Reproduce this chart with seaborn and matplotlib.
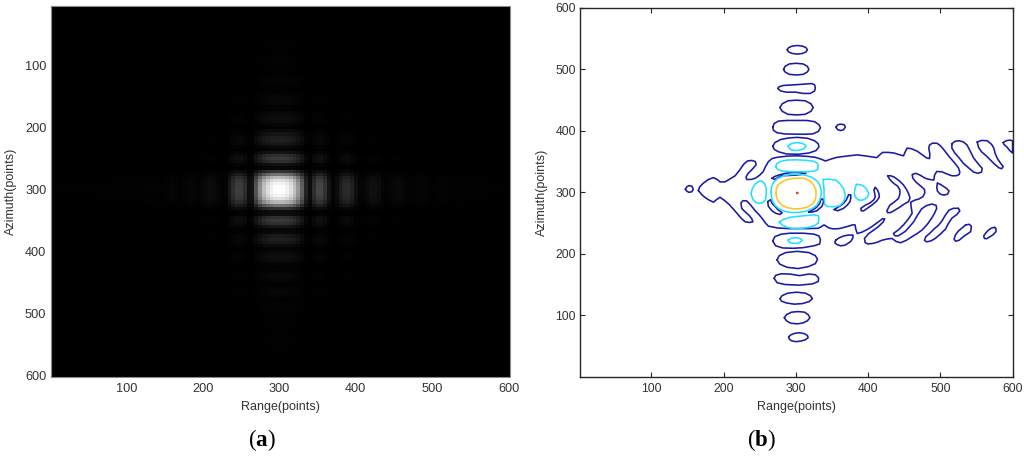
import numpy as np
import pandas as pd
import matplotlib
matplotlib.use("Agg")
import matplotlib.pyplot as plt
import seaborn as sns

sns.set_theme(style="ticks")
plt.rcParams["font.family"] = ["Liberation Sans", "DejaVu Sans"]
plt.rcParams["mathtext.fontset"] = "custom"
plt.rcParams["mathtext.bf"] = "Liberation Serif:bold"
plt.rcParams["xtick.direction"] = "in"
plt.rcParams["ytick.direction"] = "in"

# (a) brightness cuts through the peak, one value every 5 points from 0 to 600
range_cut = [
    .004, .004, .004, .004, .004, .004, .004, .004, .004, .004,
    .004, .004, .005, .005, .004, .005, .006, .006, .005, .005,
    .006, .008, .01, .008, .006, .008, .012, .012, .01, .008,
    .01, .014, .018, .014, .01, .014, .02, .025, .02, .012,
    .025, .04, .05, .04, .025, .012, .02, .09, .18, .24,
    .24, .18, .06, .08, .33, .56, .75, .87, .95, .99,
    1, .99, .95, .88, .76, .6, .38, .14, .05, .18,
    .27, .27, .2, .08, .02, .05, .11, .16, .17, .13,
    .06, .02, .02, .04, .06, .06, .045, .02, .012, .02,
    .03, .035, .03, .02, .012, .012, .018, .02, .018, .012,
    .008, .01, .014, .014, .01, .006, .008, .01, .01, .008,
    .005, .005, .006, .006, .005, .004, .005, .005, .004, .004,
    .004,
]
azimuth_cut = [
    .002, .002, .003, .003, .003, .002, .003, .004, .003, .003,
    .004, .005, .006, .008, .006, .004, .005, .008, .01, .012,
    .01, .006, .006, .01, .016, .018, .015, .008, .006, .014,
    .024, .03, .025, .014, .01, .028, .045, .055, .045, .02,
    .012, .04, .08, .12, .13, .1, .045, .02, .08, .19,
    .23, .19, .07, .03, .2, .45, .72, .88, .96, .995,
    1, .995, .96, .88, .72, .45, .2, .05, .06, .19,
    .23, .19, .09, .03, .04, .1, .13, .1, .05, .02,
    .03, .05, .06, .05, .02, .01, .015, .03, .035, .025,
    .012, .01, .018, .025, .022, .012, .007, .012, .016, .014,
    .008, .006, .008, .01, .008, .005, .004, .006, .008, .006,
    .004, .004, .005, .005, .004, .002, .003, .004, .003, .002,
    .002,
]
cut_step = 5
tick_values = [100, 200, 300, 400, 500, 600]

# (b) contour outlines, as (range, azimuth)
blue_contours = [
    # big outline around the cross and the right hand band
    [(165, 303), (167, 309), (172, 315), (179, 321), (186, 324), (191, 321), (195, 317), (202, 317),
     (209, 322), (216, 327), (222, 336), (228, 346), (233, 351), (239, 352), (244, 350), (245, 345),
     (240, 338), (234, 331), (231, 325), (232, 321), (238, 321), (244, 323), (250, 328), (255, 334),
     (258, 342), (262, 350), (267, 355), (274, 357), (288, 359), (302, 359.5), (316, 358.5), (327, 357),
     (335, 354), (341, 351), (348, 354), (357, 357), (370, 359), (385, 361), (398, 359), (412, 356.5),
     (416, 361), (420, 365), (428, 365), (436, 364), (444, 361), (449, 359.5), (451, 365), (454, 372),
     (460, 371), (468, 367), (475, 361), (481, 356), (485, 355), (485.5, 362), (484, 372), (485, 377),
     (489, 380), (495, 380), (499, 377), (503, 372), (507, 366), (513, 357), (519, 349), (525, 340),
     (527, 333), (526, 329), (522, 327), (516, 327), (509, 330), (502, 333.5), (495, 334), (492, 328),
     (491, 320), (485, 321), (479, 323), (472, 328), (466, 331), (461, 329), (462, 323), (466, 317),
     (472, 311), (478, 305), (478.5, 299), (476, 293), (470, 289), (465, 287.5), (459, 284), (459.5, 277),
     (461, 266), (456, 257), (449, 247), (442, 239), (435, 233), (437, 229.5), (441, 229), (447, 233),
     (452, 237), (458, 245), (463, 252), (468, 262), (474, 273), (480, 278), (488, 281), (494, 279),
     (495, 274), (492, 266), (488, 258), (482, 248), (475, 239), (468, 233), (461, 228), (453, 222),
     (445, 218), (439, 220), (433, 225), (426, 224), (419, 222), (413, 219), (407, 217), (400, 216),
     (396, 218), (395, 225), (400, 232), (408, 239), (415, 245), (421, 252), (423, 257), (420, 257),
     (412, 250), (405, 244), (398, 239), (391, 235), (385, 233), (383, 240), (382, 247), (378, 247),
     (373, 245), (367, 243), (360, 241), (352, 240.5), (346, 242), (339, 247), (335, 244), (331, 241.5),
     (315, 241), (290, 241), (275, 242), (262, 245), (258, 250), (253, 258), (248, 265), (243, 271),
     (237, 280), (232, 286), (227, 286.5), (224, 283), (225, 274), (230, 268), (235, 263), (239, 257),
     (240.5, 252), (236, 251), (230, 252), (225, 257), (220, 264), (214, 272), (208, 280), (201, 287),
     (195, 292), (190, 288), (186, 284), (179, 288), (174, 292), (170, 296)],
    # loops at the right
    [(516, 379), (520, 383), (526, 384), (532, 382), (537, 377), (541, 368), (546, 356), (552, 347),
     (558, 339), (557, 333), (552, 331), (546, 333), (539, 340), (532, 347), (526, 356), (520, 364), (516, 372)],
    [(551, 382), (557, 384.5), (565, 384), (571, 378), (574, 372), (576, 363), (579, 355), (583, 348),
     (587, 342), (585, 338.5), (581, 340), (575, 346), (569, 353), (563, 360), (557, 366), (553, 373)],
    [(587, 381), (591, 384), (596, 385), (600, 384), (600, 364), (596, 368), (592, 374), (588, 378)],
    [(427, 327), (431, 327), (436, 325), (443, 319), (449, 312), (453, 305), (456, 298), (458, 291),
     (456, 285), (450, 281), (444, 276), (437, 271), (431, 267), (427, 267), (426, 270), (430, 279),
     (437, 285), (442, 290), (444, 297), (444, 304), (441, 310), (435, 315), (430, 321)],
    [(496, 315), (500, 313), (504, 310), (509, 306), (512, 302), (510, 297), (505, 295.5), (500, 297),
     (496, 302), (495, 308)],
    [(410, 308), (413, 304), (415, 298), (415.5, 292), (412, 286), (405, 279), (400, 275), (394, 270),
     (390.5, 270), (390, 274), (396, 279), (403, 283), (408, 288), (410, 293), (409, 299), (408, 304)],
    [(525, 274), (527, 270), (523, 264), (516, 258), (511, 249), (507, 240), (500, 232), (493, 225),
     (487, 221), (481, 219.5), (478, 222), (480, 228), (486, 234), (491, 240), (497, 246), (502, 253),
     (507, 263), (512, 271), (518, 274)],
    [(535, 247), (540, 248), (543, 245), (542, 236), (537, 232), (532, 228), (526, 222), (521, 220.5),
     (519, 224), (521, 231), (525, 237), (530, 242)],
    [(575, 243), (577, 241), (577, 236), (573, 231), (569, 228), (564, 224.5), (561, 225), (560, 229),
     (563, 234), (567, 239), (571, 242)],
    [(355, 222), (360, 226), (366, 229), (373, 230.5), (379, 230.5), (379, 226), (376, 220), (368, 214),
     (362, 213), (357, 215), (354, 218)],
    # small circles
    [(147, 305), (149, 309), (152, 311), (156, 310), (158, 305), (156, 301), (152, 300), (149, 302)],
    [(355.5, 406), (358, 410), (362, 411), (367, 410), (368.5, 406), (366, 402), (362, 400.5), (358, 402)],
    # crescents around the main lobe
    [(267, 323), (271, 326), (276, 328), (286, 331), (297, 332.5), (306, 332), (314, 331), (307, 329),
     (299, 328), (290, 327.5), (281, 327), (275, 324), (271, 321)],
    [(261, 285), (265, 288), (267, 282), (272, 276), (276, 271), (281, 267), (278, 264), (272, 266), (267, 270), (262, 277)],
    [(318, 268), (324, 272), (329, 276), (333, 282), (335, 289), (338, 289), (338, 283), (336, 277), (329, 270), (323, 268)],
    [(353, 272), (360, 277), (366, 282), (370, 288), (373, 296), (376, 296), (376, 290), (375, 285), (371, 279), (366, 274), (358, 270)],
    # column of side lobes, top to bottom
    [(288, 532), (290, 535.5), (295, 538), (302, 539), (309, 538), (314, 535.5), (316, 532), (314, 528.5),
     (309, 526), (302, 525), (295, 526), (290, 528.5)],
    [(283, 500), (285, 505), (291, 509), (300, 510), (310, 509), (316, 505), (318, 500), (316, 496),
     (310, 492), (301, 491), (291, 492), (285, 496)],
    [(275, 469), (277, 472), (283, 474), (298, 475), (310, 476), (322, 477), (326, 475), (327, 470),
     (326, 465), (320, 461), (310, 461), (300, 463), (287, 463), (279, 465)],
    [(278, 438), (281, 444), (289, 449), (301, 450), (313, 449), (321, 444), (324, 438), (321, 432),
     (313, 427), (301, 426), (289, 427), (281, 432)],
    [(268, 406), (270, 412), (276, 416), (288, 417), (315, 417), (326, 415), (332, 410), (334, 405),
     (331, 399), (323, 395), (310, 394.5), (285, 395), (274, 397), (269, 401)],
    [(268, 375), (271, 381), (279, 386), (290, 388.5), (302, 389.5), (316, 388), (326, 384), (331, 379),
     (332, 374), (328, 368), (318, 364), (303, 362), (287, 362.5), (276, 366), (270, 370)],
    [(268, 221), (271, 228), (280, 232), (292, 233.5), (310, 233.5), (325, 232), (332, 229), (334, 223),
     (333, 216), (325, 213), (310, 210), (297, 209), (282, 209.5), (272, 213)],
    [(274, 190), (277, 197), (286, 202), (302, 204), (318, 202), (327, 197), (330, 191), (327, 184),
     (317, 179), (303, 176), (288, 178), (278, 183)],
    [(270, 160), (272, 165), (280, 167.5), (292, 167), (305, 164.5), (318, 167), (327, 166), (331.5, 161),
     (331, 155), (323, 151), (305, 149), (285, 150), (274, 153)],
    [(278, 127), (281, 132), (289, 136), (301, 137.5), (313, 136), (320, 132), (323, 127), (318, 122),
     (309, 119), (298, 118), (287, 120), (280, 123)],
    [(284, 96), (287, 101), (294, 105), (303, 106), (312, 105), (317, 101), (319.5, 96), (316, 91),
     (310, 87.5), (302, 86), (293, 87), (287, 91)],
    [(290, 65), (293, 68), (298, 70.5), (305, 71.5), (312, 70), (316, 67), (317, 63.5), (313, 60),
     (307, 58), (300, 57), (294, 58.5), (291, 61)],
]
cyan_contours = [
    [(289, 375), (292, 378), (296, 380), (302, 381), (308, 380), (312, 378), (314, 375), (311, 371), (306, 369), (300, 368), (294, 369), (291, 372)],
    [(289, 222), (293, 225), (297, 226), (302, 226), (306, 225), (309, 222), (306, 219), (302, 217), (297, 217), (292, 218)],
    [(272, 342), (274, 347), (279, 350.5), (288, 352.5), (300, 353), (315, 352), (325, 350.5), (330, 347),
     (331, 342), (330, 337), (325, 334.5), (315, 333.5), (295, 333.5), (282, 334.5), (275, 337)],
    [(277, 252), (283, 256), (292, 259.5), (308, 261.5), (325, 263.5), (331, 262), (332, 257), (331, 250),
     (326, 246), (318, 243), (308, 241.5), (297, 241), (288, 243), (281, 247)],
    [(238, 298), (240, 307), (244, 314), (249, 318), (253, 318.5), (257, 314), (259, 306), (259, 297),
     (258, 288), (254, 283), (249, 282), (244, 284), (240, 290)],
    [(338, 321), (346, 321.5), (355, 320), (361, 314), (366, 306), (368, 298), (368, 291), (365, 283),
     (360, 278), (352, 276.5), (344, 277), (340, 280), (339, 290), (339, 305), (338, 315)],
    [(384, 313), (389, 312.5), (394, 310), (398, 305), (401, 298), (399, 292), (395, 288.5), (390, 287),
     (386, 288), (382, 293), (381, 299), (382, 307)],
    [(265.5, 300), (266, 308), (269, 316), (274, 322), (283, 327), (293, 329), (303, 329.5), (313, 328),
     (322, 324.5), (329, 319), (333, 312), (335, 304), (335, 295), (333, 287), (329, 279), (323, 274),
     (315, 269.5), (305, 267.5), (295, 267), (285, 269), (277, 273), (271, 279), (267, 288)],
]
orange_contours = [
    [(272.5, 298), (273, 306), (276, 313), (282, 318), (290, 321.5), (300, 323), (311, 323), (319, 319),
     (324, 313), (327.5, 305), (328, 297), (327, 288), (323, 281), (316, 276), (307, 273.5), (298, 273),
     (288, 275), (281, 279), (276, 285), (273.5, 291)],
]
red_contours = [
    [(301, 299), (302, 300), (303, 299), (302, 298)],
]
level_colors = {"blue": "#1a1aa6", "cyan": "#22e0ff", "orange": "#ffc31f", "red": "#e8402a"}

# build the long table for lineplot
rows = []
contour_id = 0
for level, contours in [("blue", blue_contours), ("cyan", cyan_contours),
                        ("orange", orange_contours), ("red", red_contours)]:
    for outline in contours:
        for r, a in outline + outline[:1]:
            rows.append({"range": r, "azimuth": a, "level": level, "contour": contour_id})
        contour_id += 1
contour_df = pd.DataFrame(rows)

fig = plt.figure(figsize=(10.24, 4.57), dpi=100)
ax1 = fig.add_axes([50.5 / 1024, 1 - 377 / 457, 459 / 1024, 371 / 457])
ax2 = fig.add_axes([580 / 1024, 1 - 376.7 / 457, 433.3 / 1024, 368.7 / 457])

# 图a
image = np.outer(azimuth_cut, range_cut)
sns.heatmap(image, ax=ax1, cmap="gray", vmin=0, vmax=1, cbar=False,
            xticklabels=False, yticklabels=False)
to_cell = lambda v: v / cut_step + 0.5
ax1.set_xlim(to_cell(1), to_cell(601))
ax1.set_ylim(to_cell(603), to_cell(3))
ax1.set_xticks([to_cell(v) for v in tick_values], labels=tick_values)
ax1.set_yticks([to_cell(v) for v in tick_values], labels=tick_values)
for side in ax1.spines.values():
    side.set_visible(True)
    side.set_color("#8a8a8a")
    side.set_linewidth(0.8)
ax1.tick_params(top=True, right=True, length=3.6, width=0.8, color="black",
                labelsize=9.2, labelcolor="#333333", pad=3)
ax1.tick_params(axis="x", pad=4.5)

# 图b
sns.lineplot(data=contour_df, x="range", y="azimuth", hue="level", palette=level_colors,
             units="contour", estimator=None, sort=False, legend=False, lw=1.15,
             solid_joinstyle="round", ax=ax2)
ax2.set_xlim(1.2, 601)
ax2.set_ylim(0, 600)
ax2.set_xticks(tick_values, labels=tick_values)
ax2.set_yticks(tick_values, labels=tick_values)
for side in ax2.spines.values():
    side.set_visible(True)
    side.set_color("#262626")
    side.set_linewidth(1.0)
ax2.tick_params(top=True, right=True, length=3.6, width=0.8, color="#262626",
                labelsize=8.8, labelcolor="#333333", pad=3)
ax2.tick_params(axis="x", pad=4.5)

for ax in (ax1, ax2):
    ax.set_xlabel("Range(points)", fontsize=9, color="#333333", labelpad=4)
    ax.set_ylabel("Azimuth(points)", fontsize=9, color="#333333", labelpad=5.5)

fig.text(262 / 1024, 1 - 440 / 457, r"($\mathbf{a}$)", family="Liberation Serif",
         fontsize=16.5, ha="center", va="center", color="black")
fig.text(761 / 1024, 1 - 440 / 457, r"($\mathbf{b}$)", family="Liberation Serif",
         fontsize=16.5, ha="center", va="center", color="black")

fig.savefig("out.png", dpi=100)
